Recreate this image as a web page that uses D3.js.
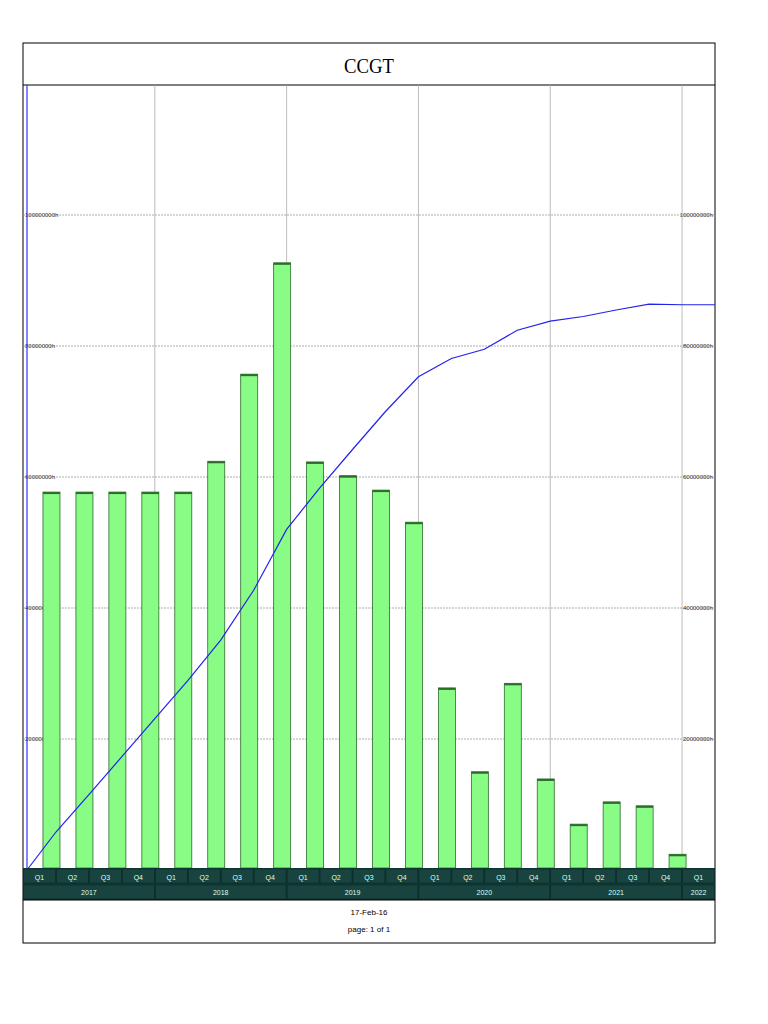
<!DOCTYPE html><html><head><meta charset="utf-8">
<script src="https://cdn.jsdelivr.net/npm/d3@7"></script>
<style>body{margin:0;background:#fff}</style></head><body>
<svg id="c" width="768" height="1024"></svg>
<script>
const quarters=["Q1","Q2","Q3","Q4","Q1","Q2","Q3","Q4","Q1","Q2","Q3","Q4","Q1","Q2","Q3","Q4","Q1","Q2","Q3","Q4","Q1"];
const years=["2017","2018","2019","2020","2021","2022"];
const yearCounts=[4,4,4,4,4,1];
const barValues=[57.7,57.7,57.7,57.7,57.7,62.4,75.7,92.7,62.3,60.2,58.0,53.1,27.8,15.0,28.5,13.9,7.0,10.4,9.8,2.4,0];
const lineValues=[0,5.8,11.5,17.3,23.1,28.9,35.1,42.7,52.0,58.3,64.2,70.0,75.3,78.1,79.5,82.4,83.8,84.5,85.5,86.4,86.3,86.3];
const yTicks=[20,40,60,80,100];
const tickLabel=v=>(v*1e6)+"h";

const svg=d3.select("#c");
const L=23,R=715,T=43,B=943;
const plotTop=85,plotBot=868;
svg.append("rect").attr("x",L).attr("y",T).attr("width",R-L).attr("height",B-T).attr("fill","#fff").attr("stroke","#000");
svg.append("line").attr("x1",L).attr("x2",R).attr("y1",plotTop).attr("y2",plotTop).attr("stroke","#000");
svg.append("text").attr("x",(L+R)/2).attr("y",73).attr("text-anchor","middle").attr("font-family","Liberation Serif").attr("font-size",22).attr("transform","translate(369,0) scale(0.85,1) translate(-369,0)").text("CCGT");

const x=d3.scaleBand().domain(d3.range(quarters.length)).range([L,R]).padding(0);
const y=d3.scaleLinear().domain([0,100]).range([870,215]);
const xe=d3.scaleLinear().domain([0,quarters.length]).range([L,R]);

// horizontal grid
yTicks.forEach(v=>{
 svg.append("line").attr("x1",L).attr("x2",R).attr("y1",y(v)).attr("y2",y(v)).attr("stroke","#999").attr("stroke-dasharray","2,1").attr("stroke-width",0.8);
 svg.append("text").attr("x",L+2).attr("y",y(v)+2).attr("font-family","Liberation Sans Narrow, Liberation Sans").attr("font-size",6).attr("fill","#333").text(tickLabel(v));
 svg.append("text").attr("x",R-2).attr("y",y(v)+2).attr("text-anchor","end").attr("font-family","Liberation Sans Narrow, Liberation Sans").attr("font-size",6).attr("fill","#333").text(tickLabel(v));
});
// vertical year lines
let acc=0;
yearCounts.slice(0,-1).forEach(c=>{acc+=c;const xx=xe(acc);
 svg.append("line").attr("x1",xx).attr("x2",xx).attr("y1",plotTop).attr("y2",plotBot).attr("stroke","#aaa").attr("stroke-width",0.8);});

// bars
const bw=17;
barValues.forEach((v,i)=>{ if(v<=0)return;
 const cx=x(i)+x.bandwidth()/2+12;
 svg.append("rect").attr("x",cx-bw/2).attr("y",y(v)).attr("width",bw).attr("height",plotBot-y(v)).attr("fill","#88fc84").attr("stroke","#2d6b2d").attr("stroke-width",0.8);
 svg.append("rect").attr("x",cx-bw/2).attr("y",y(v)).attr("width",bw).attr("height",2).attr("fill","#2d6b2d");
});
// line
svg.append("line").attr("x1",27).attr("x2",27).attr("y1",plotTop).attr("y2",plotBot).attr("stroke","#3333ff").attr("stroke-width",1.2);
svg.append("path").datum(lineValues).attr("fill","none").attr("stroke","#2222ee").attr("stroke-width",1.2)
 .attr("d",d3.line().x((d,i)=>i===0?27:xe(i)).y(d=>y(d)));

// axis bands
svg.append("rect").attr("x",L).attr("y",868).attr("width",R-L).attr("height",32).attr("fill","#0f3a36");
quarters.forEach((q,i)=>{
 svg.append("rect").attr("x",x(i)+0.5).attr("y",869).attr("width",x.bandwidth()-1).attr("height",14).attr("fill","#18433f").attr("stroke","#0a2826").attr("stroke-width",0.6);
 svg.append("text").attr("x",x(i)+x.bandwidth()/2).attr("y",880).attr("text-anchor","middle").attr("font-family","Liberation Sans Narrow, Liberation Sans").attr("font-size",7).attr("fill","#dfe").text(q);
});
acc=0;
years.forEach((yr,j)=>{const x0=xe(acc);acc+=yearCounts[j];const x1=xe(acc);
 svg.append("rect").attr("x",x0+0.5).attr("y",885).attr("width",x1-x0-1).attr("height",14).attr("fill","#18433f").attr("stroke","#0a2826").attr("stroke-width",0.6);
 svg.append("text").attr("x",(x0+x1)/2).attr("y",895).attr("text-anchor","middle").attr("font-family","Liberation Sans Narrow, Liberation Sans").attr("font-size",7).attr("fill","#dfe").text(yr);});
svg.append("line").attr("x1",L).attr("x2",R).attr("y1",900).attr("y2",900).attr("stroke","#000");
svg.append("text").attr("x",(L+R)/2).attr("y",915).attr("text-anchor","middle").attr("font-family","Liberation Sans").attr("font-size",8).text("17-Feb-16");
svg.append("text").attr("x",(L+R)/2).attr("y",932).attr("text-anchor","middle").attr("font-family","Liberation Sans").attr("font-size",8).text("page: 1 of 1");
</script></body></html>
